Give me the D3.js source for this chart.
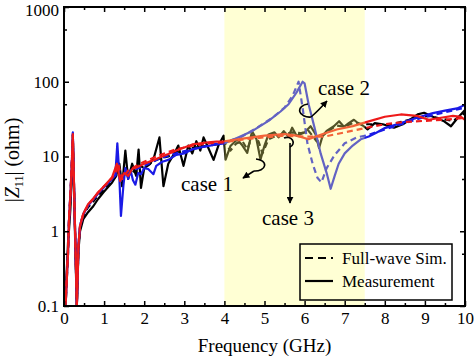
<!DOCTYPE html>
<html><head><meta charset="utf-8">
<script src="https://cdn.jsdelivr.net/npm/d3@7"></script>
<style>
body{margin:0;background:#fff}
svg{display:block}
text{font-family:"Liberation Serif","Times New Roman",Times,"DejaVu Serif",serif !important;fill:#000}
</style>
</head><body>
<svg id="c" width="474" height="362"></svg>
<script>
// ---------- data ----------
const xTicks = [0,1,2,3,4,5,6,7,8,9,10];
const xMinorTicks = [0.5,1.5,2.5,3.5,4.5,5.5,6.5,7.5,8.5,9.5];
const yTicks = [0.1,1,10,100,1000];
const yTickLabels = ["0.1","1","10","100","1000"];
const yMinorTicks = [0.5,5,50,500];
const bandRange = [4, 7.5];
const legendLabels = ["Full-wave Sim.","Measurement"];
const caseLabels = ["case 1","case 2","case 3"];

// case 1 (black)
const case1Meas = [[0,0.1],[0.04,0.15],[0.08,0.4],[0.1,0.7],[0.125,1.05],[0.16,2],[0.19,5],[0.22,17],[0.25,3.5],[0.29,0.4],[0.32,0.1],[0.36,0.55],[0.4,1.0],[0.48,1.45],[0.6,1.8],[0.73,2.16],[0.85,2.7],[0.98,3.3],[1.1,3.9],[1.2,4.5],[1.3,5.5],[1.38,8],[1.45,4],[1.53,12],[1.6,5],[1.7,8],[1.8,5.5],[1.86,12.4],[1.92,3.8],[2.0,7],[2.15,8],[2.25,10],[2.38,18],[2.48,4],[2.6,8],[2.75,11],[2.85,14],[2.98,7.5],[3.1,14],[3.2,11],[3.3,16],[3.4,12],[3.48,18],[3.6,13],[3.73,9],[3.85,14],[3.98,19],[4.03,9.1],[4.15,13.8],[4.32,16.9],[4.45,14],[4.57,11.2],[4.69,21.8],[4.8,17],[4.9,9.1],[5.0,14],[5.1,19.7],[5.25,21],[5.35,18],[5.48,21.8],[5.6,18.5],[5.69,24.3],[5.8,19],[6.0,21],[6.15,25.4],[6.27,20],[6.36,13],[6.45,19],[6.55,22],[6.73,25.4],[6.86,29.6],[6.98,25],[7.1,28],[7.23,31],[7.32,28.3],[7.45,26],[7.57,23],[7.75,28],[7.95,27],[8.23,24.3],[8.45,27],[8.6,30.5],[8.82,36.6],[8.98,38.5],[9.2,34],[9.48,29.6],[9.65,25.4],[9.82,33],[10,42]];
const case1Sim = [[0,0.1],[0.04,0.1],[0.08,0.3],[0.1,0.5],[0.125,1.3],[0.16,2.8],[0.19,6.5],[0.22,19],[0.25,4],[0.29,0.5],[0.32,0.1],[0.36,0.6],[0.4,1.1],[0.48,1.6],[0.6,2.1],[0.73,2.5],[0.85,3.0],[0.98,3.5],[1.1,4.1],[1.2,4.7],[1.3,5.5],[1.36,7],[1.42,4.5],[1.5,6],[1.6,5.5],[1.7,6.5],[1.8,6],[1.9,7.5],[2.0,7],[2.2,8.5],[2.4,9.5],[2.6,10],[2.8,11.5],[3.0,11.5],[3.2,13],[3.4,13.5],[3.6,14],[3.8,14.5],[4.0,15.5],[4.15,12],[4.3,15],[4.45,16],[4.57,12.5],[4.7,19],[4.85,16],[4.95,11],[5.1,17],[5.3,19],[5.5,20],[5.7,21],[5.9,20.5],[6.1,22],[6.3,16],[6.45,19],[6.6,22],[6.8,26],[7.0,25],[7.2,28],[7.5,27],[7.8,27],[8.1,26],[8.4,29],[8.8,33],[9.1,35],[9.4,32],[9.7,30],[10,38]];
// case 2 (blue)
const case2Meas = [[0,0.1],[0.04,0.1],[0.08,0.3],[0.1,0.5],[0.125,1.4],[0.16,3],[0.19,6.7],[0.22,20],[0.25,4],[0.29,0.5],[0.32,0.1],[0.36,0.63],[0.4,1.17],[0.48,1.67],[0.6,2.2],[0.73,2.65],[0.85,3.2],[0.98,3.8],[1.1,4.4],[1.2,5.0],[1.28,5.6],[1.33,15],[1.37,7],[1.42,1.6],[1.48,4],[1.53,7],[1.6,5],[1.66,6.5],[1.72,4.8],[1.78,4.2],[1.85,6],[1.92,5.8],[2.0,7],[2.1,6.8],[2.23,5.8],[2.3,7.5],[2.45,8.5],[2.6,9],[2.8,10.5],[3.0,11],[3.2,12.5],[3.5,13.5],[3.8,14.5],[4.0,15],[4.3,17.5],[4.7,22],[5.1,30],[5.4,40],[5.6,50],[5.8,72],[5.95,100],[6.0,95],[6.1,50],[6.25,24],[6.4,11],[6.55,6],[6.65,3.7],[6.75,5.5],[6.85,8],[7.0,11],[7.2,14],[7.4,17],[7.6,18.5],[7.8,21],[8.0,24],[8.4,28],[8.8,33],[9.2,38],[9.5,41],[9.8,44],[10,49]];
const case2Sim = [[0,0.1],[0.04,0.12],[0.08,0.35],[0.1,0.55],[0.125,1.5],[0.16,3.2],[0.19,7],[0.22,21],[0.25,4.2],[0.29,0.5],[0.32,0.1],[0.36,0.65],[0.4,1.2],[0.48,1.7],[0.6,2.25],[0.73,2.7],[0.85,3.25],[0.98,3.85],[1.1,4.5],[1.2,5.1],[1.28,5.5],[1.34,9],[1.4,4.5],[1.48,5.5],[1.6,6],[1.8,6.8],[2.0,7.5],[2.4,9.5],[2.8,11],[3.2,12.5],[3.6,14],[4.0,15.5],[4.4,18],[4.8,24],[5.2,33],[5.5,45],[5.7,65],[5.85,100],[5.95,45],[6.07,15],[6.2,8],[6.32,5.2],[6.42,4.5],[6.55,7],[6.75,10.5],[7.0,15],[7.3,18],[7.6,19.5],[8.0,23],[8.5,28],[9.0,34],[9.5,39],[10,45]];
// case 3 (red)
const case3Meas = [[0,0.1],[0.04,0.1],[0.08,0.3],[0.1,0.5],[0.125,1.4],[0.16,3],[0.19,6.7],[0.22,19],[0.25,4],[0.29,0.5],[0.32,0.1],[0.36,0.63],[0.4,1.17],[0.48,1.7],[0.6,2.3],[0.73,2.75],[0.85,3.3],[0.98,3.9],[1.1,4.6],[1.2,5.3],[1.26,6.5],[1.32,8],[1.4,4.7],[1.5,6],[1.6,5.5],[1.7,6.8],[1.82,7.2],[2.0,8],[2.2,8.8],[2.4,9.8],[2.6,10.8],[2.8,12],[3.0,13.2],[3.2,14.5],[3.4,15],[3.6,15.5],[3.8,15.8],[4.0,16],[4.5,17.5],[5.0,19],[5.5,20],[5.8,19],[6.1,17],[6.4,19.5],[6.8,23],[7.2,25.5],[7.6,29.5],[8.0,34],[8.4,36.5],[8.8,35],[9.1,31],[9.4,33],[9.7,35],[9.9,34],[10,31]];
const case3Sim = [[0,0.1],[0.04,0.12],[0.08,0.35],[0.1,0.55],[0.125,1.5],[0.16,3.2],[0.19,7],[0.22,20],[0.25,4.2],[0.29,0.5],[0.32,0.1],[0.36,0.65],[0.4,1.2],[0.48,1.7],[0.6,2.25],[0.73,2.7],[0.85,3.3],[0.98,3.9],[1.1,4.5],[1.2,5.2],[1.28,6],[1.35,8],[1.45,5],[1.6,6.5],[1.8,7.5],[2.0,8.5],[2.4,10.5],[2.8,12.5],[3.2,14],[3.6,15],[4.0,15.5],[4.5,17],[5.0,18],[5.5,19],[6.0,18.5],[6.5,18.5],[7.0,21],[7.5,24],[8.0,27],[8.5,29],[9.0,30],[9.5,31],[10,33]];

// ---------- layout ----------
const FONT = '"Liberation Serif","Times New Roman",Times,"DejaVu Serif",serif';
const W = 474, H = 362;
const m = {l:64, r:9, t:7, b:56};
const pw = W - m.l - m.r, ph = H - m.t - m.b;
const svg = d3.select("#c");
const x = d3.scaleLinear().domain([0,10]).range([m.l, m.l+pw]);
const y = d3.scaleLog().domain([0.1,1000]).range([m.t+ph, m.t]);

svg.append("defs").append("clipPath").attr("id","clip")
  .append("rect").attr("x",m.l).attr("y",m.t).attr("width",pw).attr("height",ph);
const mk = svg.select("defs").append("marker").attr("id","arr")
  .attr("viewBox","0 0 10 10").attr("refX",9).attr("refY",5)
  .attr("markerWidth",7).attr("markerHeight",7).attr("orient","auto-start-reverse")
  .attr("markerUnits","userSpaceOnUse");
mk.append("path").attr("d","M0,0 L10,5 L0,10 z").attr("fill","#000");

const line = d3.line().x(d=>x(d[0])).y(d=>y(Math.max(d[1],0.1)));
const plot = svg.append("g").attr("clip-path","url(#clip)");
const series = [
  {d:case1Sim, c:"#000", dash:"6,4"},
  {d:case1Meas, c:"#000", dash:null},
  {d:case2Sim, c:"#1a1ae6", dash:"6,4"},
  {d:case2Meas, c:"#1a1ae6", dash:null},
  {d:case3Sim, c:"#ee1a1a", dash:"6,4"},
  {d:case3Meas, c:"#ee1a1a", dash:null}
];
series.forEach(s=>{
  plot.append("path").attr("d",line(s.d)).attr("fill","none")
    .attr("stroke",s.c).attr("stroke-width",2.2).attr("stroke-linejoin","round")
    .attr("stroke-dasharray",s.dash);
});

// yellow band overlay
svg.append("rect").attr("x",x(bandRange[0])).attr("y",m.t)
  .attr("width",x(bandRange[1])-x(bandRange[0])).attr("height",ph)
  .attr("fill","rgb(255,255,120)").attr("opacity",0.32);

// ---------- axes ----------
function styleAxis(g){ g.attr("font-family",FONT).attr("font-size",17); g.select(".domain").remove(); g.selectAll("line").attr("stroke","#000").attr("stroke-width",1.5); g.selectAll("text").attr("fill","#000"); }
svg.append("g").attr("transform",`translate(0,${m.t+ph})`)
  .call(d3.axisBottom(x).tickValues(xTicks).tickFormat(d3.format("d")).tickSize(-5).tickPadding(6)).call(styleAxis);
svg.append("g").attr("transform",`translate(0,${m.t+ph})`)
  .call(d3.axisBottom(x).tickValues(xMinorTicks).tickFormat("").tickSize(-3)).call(styleAxis);
svg.append("g").attr("transform",`translate(0,${m.t})`)
  .call(d3.axisTop(x).tickValues(xTicks).tickFormat("").tickSize(-5)).call(styleAxis);
svg.append("g").attr("transform",`translate(0,${m.t})`)
  .call(d3.axisTop(x).tickValues(xMinorTicks).tickFormat("").tickSize(-3)).call(styleAxis);
const yAxisG = svg.append("g").attr("transform",`translate(${m.l},0)`)
  .call(d3.axisLeft(y).tickValues(yTicks).tickFormat((d,i)=>yTickLabels[i]).tickSize(-5).tickPadding(5)).call(styleAxis);
yAxisG.selectAll(".tick text").filter(d=>d===1000).attr("dy","0.5em");
svg.append("g").attr("transform",`translate(${m.l},0)`)
  .call(d3.axisLeft(y).tickValues(yMinorTicks).tickFormat("").tickSize(-3)).call(styleAxis);
svg.append("g").attr("transform",`translate(${m.l+pw},0)`)
  .call(d3.axisRight(y).tickValues(yTicks).tickFormat("").tickSize(-5)).call(styleAxis);
svg.append("g").attr("transform",`translate(${m.l+pw},0)`)
  .call(d3.axisRight(y).tickValues(yMinorTicks).tickFormat("").tickSize(-3)).call(styleAxis);

svg.append("rect").attr("x",m.l).attr("y",m.t).attr("width",pw).attr("height",ph)
  .attr("fill","none").attr("stroke","#000").attr("stroke-width",2);

// axis titles
svg.append("text").attr("x",m.l+pw/2).attr("y",352).attr("text-anchor","middle")
  .attr("font-family",FONT).attr("font-size",19).text("Frequency (GHz)");
const yl = svg.append("text").attr("transform","translate(19,160) rotate(-90)")
  .attr("text-anchor","middle").attr("font-family",FONT).attr("font-size",20);
yl.append("tspan").text("|");
yl.append("tspan").attr("font-style","italic").text("Z");
yl.append("tspan").attr("dy",4).attr("font-size",12).text("11");
yl.append("tspan").attr("dy",-4).text("| (ohm)");

// ---------- annotations ----------
const ann = svg.append("g").attr("fill","none").attr("stroke","#000").attr("stroke-width",1.6);
ann.append("path").attr("d","M256,159 A8,5 0 1,1 254,171");
ann.append("path").attr("d","M254,171 L243,178").attr("marker-end","url(#arr)");
ann.append("path").attr("d","M308,104 A9,6 0 1,0 311,117");
ann.append("path").attr("d","M311,117 Q318,111 327,101").attr("marker-end","url(#arr)");
ann.append("path").attr("d","M284,138 A6,5 0 1,1 290,147");
ann.append("path").attr("d","M290,143 L290,203").attr("marker-end","url(#arr)");

svg.append("text").attr("x",181).attr("y",191).attr("font-family",FONT).attr("font-size",21).text(caseLabels[0]);
svg.append("text").attr("x",318).attr("y",95).attr("font-family",FONT).attr("font-size",21).text(caseLabels[1]);
svg.append("text").attr("x",262).attr("y",225).attr("font-family",FONT).attr("font-size",21).text(caseLabels[2]);

// ---------- legend ----------
const lg = svg.append("g");
lg.append("rect").attr("x",300).attr("y",244).attr("width",152).attr("height",56)
  .attr("fill","none").attr("stroke","#000").attr("stroke-width",1.5);
lg.append("line").attr("x1",305).attr("x2",333).attr("y1",258).attr("y2",258)
  .attr("stroke","#000").attr("stroke-width",2.2).attr("stroke-dasharray","8,5");
lg.append("line").attr("x1",305).attr("x2",333).attr("y1",281).attr("y2",281)
  .attr("stroke","#000").attr("stroke-width",2.2);
lg.append("text").attr("x",342).attr("y",264).attr("font-family",FONT).attr("font-size",17).text(legendLabels[0]);
lg.append("text").attr("x",342).attr("y",287).attr("font-family",FONT).attr("font-size",17).text(legendLabels[1]);
</script>
</body></html>
